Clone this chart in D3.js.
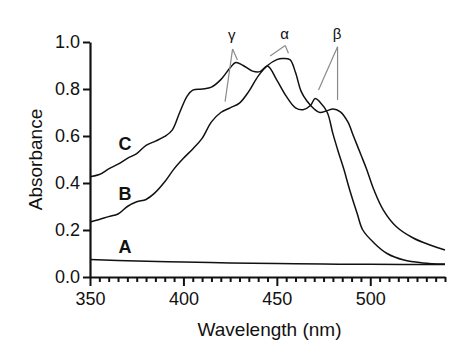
<!DOCTYPE html>
<html>
<head>
<meta charset="utf-8">
<script src="https://cdn.jsdelivr.net/npm/d3@7"></script>
<style>
  body { margin: 0; background: #fff; }
  text { font-family: "Liberation Sans", Arial, sans-serif; fill: #111; }
</style>
</head>
<body>
<svg id="chart"></svg>
<script>
const W = 474, H = 353;

// spectra (wavelength nm / absorbance)
const wlA = [350, 375, 400, 425, 450, 475, 500, 540];
const absA = [0.074, 0.068, 0.064, 0.060, 0.057, 0.055, 0.054, 0.053];

const wlB = [350, 355, 360, 365, 370, 375, 380, 385, 390, 395, 400, 405, 410, 415, 420, 425, 430, 435, 440, 445,
             450, 453, 457, 460, 463, 466, 470, 473, 477, 480, 484, 488, 491, 495, 498, 502, 507, 514, 523, 532, 540];
const absB = [0.234, 0.245, 0.257, 0.268, 0.300, 0.320, 0.330, 0.360, 0.405, 0.460, 0.505, 0.545, 0.590, 0.660, 0.700, 0.720, 0.740, 0.790, 0.855, 0.900,
              0.925, 0.930, 0.925, 0.870, 0.790, 0.750, 0.715, 0.700, 0.708, 0.715, 0.703, 0.660, 0.600, 0.520, 0.460, 0.370, 0.285, 0.214, 0.166, 0.136, 0.115];

const wlC = [350, 355, 360, 365, 370, 375, 380, 385, 390, 394, 398, 402, 405, 410, 415, 420, 425, 428, 432, 437, 441,
             445, 450, 455, 460, 464, 468, 470.5, 473, 477, 480, 483, 486, 489, 493, 496, 502, 509, 518, 528, 540];
const absC = [0.427, 0.436, 0.460, 0.480, 0.505, 0.525, 0.560, 0.578, 0.598, 0.625, 0.700, 0.770, 0.795, 0.800, 0.808, 0.840, 0.890, 0.913, 0.900, 0.876, 0.874,
              0.898, 0.838, 0.770, 0.720, 0.712, 0.730, 0.760, 0.745, 0.700, 0.610, 0.530, 0.455, 0.370, 0.270, 0.200, 0.145, 0.100, 0.072, 0.060, 0.055];

const series = [
    { name: "A", wl: wlA, abs: absA, labelAt: [368.7, 0.128] },
    { name: "B", wl: wlB, abs: absB, labelAt: [368.7, 0.357] },
    { name: "C", wl: wlC, abs: absC, labelAt: [368.7, 0.570] }
];

const xTicks = [350, 400, 450, 500];
const yTicks = [0.0, 0.2, 0.4, 0.6, 0.8, 1.0];

// band labels: text position and the lines pointing at the curves
const bands = [
    { name: "γ", at: [425.9, 1.03], from: [426.3, 0.97], to: [[422.3, 0.746], [428.9, 0.923]] },
    { name: "α", at: [454.1, 1.035], from: [454.5, 0.985], to: [[446.4, 0.94], [456.2, 0.952]] },
    { name: "β", at: [482.2, 1.035], from: [482.5, 0.98], to: [[472.3, 0.796], [482.5, 0.753]] }
];

const svg = d3.select("#chart").attr("width", W).attr("height", H);

const x = d3.scaleLinear().domain([350, 540]).range([90, 445]);
const y = d3.scaleLinear().domain([0, 1]).range([277, 42]);

// axes
svg.append("g")
    .attr("transform", `translate(0,${y(0)})`)
    .call(d3.axisBottom(x).tickValues(xTicks).tickSize(9).tickSizeOuter(0).tickPadding(6));
svg.append("g")
    .attr("transform", `translate(0,${y(0)})`)
    .call(d3.axisBottom(x).tickValues(d3.range(350, 541, 5).filter(v => v % 50 !== 0)).tickSize(5).tickSizeOuter(0).tickFormat(""))
    .call(g => g.select(".domain").remove());

svg.append("g")
    .attr("transform", `translate(${x(350)},0)`)
    .call(d3.axisLeft(y).tickValues(yTicks).tickSize(7).tickSizeOuter(0).tickPadding(3).tickFormat(d3.format(".1f")));

svg.selectAll(".domain").attr("stroke", "#111").attr("stroke-width", 2.2);
svg.selectAll(".tick line").attr("stroke", "#111").attr("stroke-width", 2);
svg.selectAll(".tick text").attr("font-size", 18).attr("fill", "#111")
    .style("font-family", "'Liberation Sans', Arial, sans-serif");

svg.append("text")
    .attr("x", (x(350) + x(540)) / 2 + 2).attr("y", 336)
    .attr("text-anchor", "middle")
    .attr("font-size", 19)
    .text("Wavelength (nm)");

svg.append("text")
    .attr("transform", "rotate(-90)")
    .attr("x", -(y(0) + y(1)) / 2).attr("y", 42)
    .attr("text-anchor", "middle")
    .attr("font-size", 19)
    .text("Absorbance");

// curves
const line = d3.line()
    .x(d => x(d[0]))
    .y(d => y(d[1]))
    .curve(d3.curveCatmullRom.alpha(0.5));

series.forEach(s => {
    svg.append("path")
        .datum(s.wl.map((w, i) => [w, s.abs[i]]))
        .attr("fill", "none")
        .attr("stroke", "#111")
        .attr("stroke-width", 1.5)
        .attr("d", line);

    svg.append("text")
        .attr("x", x(s.labelAt[0])).attr("y", y(s.labelAt[1]))
        .attr("dy", "0.36em")
        .attr("text-anchor", "middle")
        .attr("font-size", 18)
        .attr("font-weight", "bold")
        .text(s.name);
});

// band annotations
bands.forEach(b => {
    b.to.forEach(t => {
        svg.append("line")
            .attr("x1", x(b.from[0])).attr("y1", y(b.from[1]))
            .attr("x2", x(t[0])).attr("y2", y(t[1]))
            .attr("stroke", "#8a8a8a")
            .attr("stroke-width", 1.2);
    });
    svg.append("text")
        .attr("x", x(b.at[0])).attr("y", y(b.at[1]))
        .attr("dy", "0.36em")
        .attr("text-anchor", "middle")
        .attr("font-size", 15)
        .text(b.name);
});
</script>
</body>
</html>
